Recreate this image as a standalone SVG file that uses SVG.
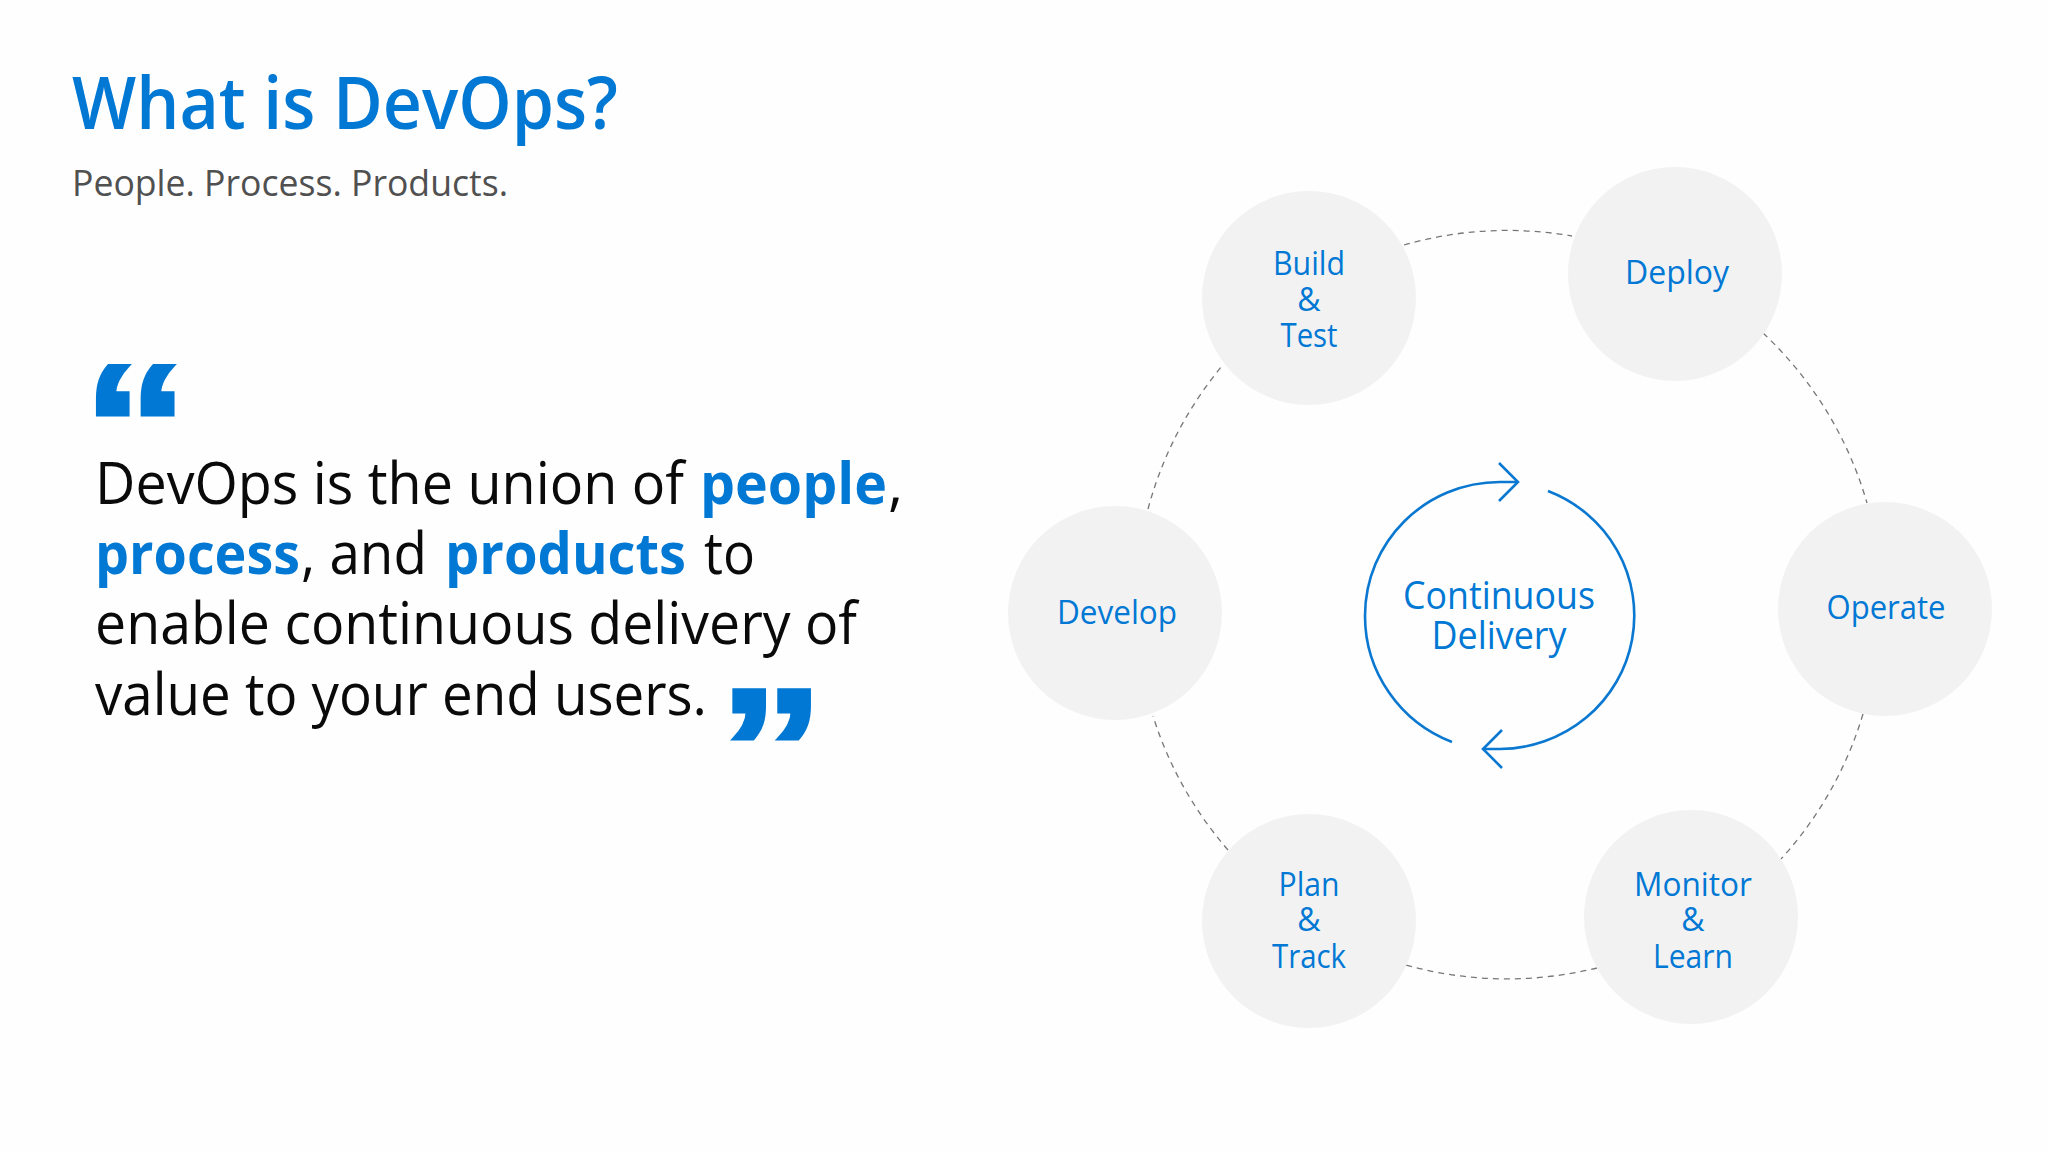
<svg xmlns="http://www.w3.org/2000/svg" width="2048" height="1152" viewBox="0 0 2048 1152">
<style>
text{font-family:"Open Sans","Noto Sans","Liberation Sans",sans-serif}
.t{fill:#0078d4;font-size:72px;font-weight:600}
.s{fill:#505050;font-size:37px}
.q{fill:#0a0a0a;font-size:58px}
.b{fill:#0078d4;font-size:58px;font-weight:700}
.m{fill:#0078d4;stroke:#0078d4;stroke-width:3;font-size:175px;font-weight:700;font-family:"Liberation Sans",Arial,sans-serif}
.n{fill:#f3f2f3}
.l{fill:#0078d4;font-size:32px;text-anchor:middle}
.c{fill:#0078d4;font-size:38px;text-anchor:middle}
.d{fill:none;stroke:#777;stroke-width:1.3;stroke-dasharray:6 5}
.a{fill:none;stroke:#0a78d0;stroke-width:2.6}
</style>
<defs>
<marker id="h" markerUnits="userSpaceOnUse" markerWidth="44" markerHeight="60" refX="30" refY="30" orient="auto"><path d="M11 11L30 30L11 49" fill="none" stroke="#0a78d0" stroke-width="2.6"/></marker>
</defs>
<rect width="2048" height="1152" fill="#fefefe"/>
<text class="t" x="72" y="129" textLength="546" lengthAdjust="spacingAndGlyphs">What is DevOps?</text>
<text class="s" x="72" y="196" textLength="436" lengthAdjust="spacingAndGlyphs">People. Process. Products.</text>
<g id="quote">
<text class="m" x="82" y="486" textLength="107" lengthAdjust="spacingAndGlyphs">“</text>
<text class="q" x="95" y="504" textLength="589" lengthAdjust="spacingAndGlyphs">DevOps is the union of</text>
<text class="b" x="700" y="504" textLength="187" lengthAdjust="spacingAndGlyphs">people</text>
<text class="q" x="888" y="504">,</text>
<text class="b" x="95" y="574" textLength="205" lengthAdjust="spacingAndGlyphs">process</text>
<text class="q" x="301" y="574" textLength="126" lengthAdjust="spacingAndGlyphs">, and</text>
<text class="b" x="445" y="574" textLength="241" lengthAdjust="spacingAndGlyphs">products</text>
<text class="q" x="704" y="574" textLength="51" lengthAdjust="spacingAndGlyphs">to</text>
<text class="q" x="95" y="644" textLength="762" lengthAdjust="spacingAndGlyphs">enable continuous delivery of</text>
<text class="q" x="95" y="715" textLength="612" lengthAdjust="spacingAndGlyphs">value to your end users.</text>
<text class="m" x="718" y="810" textLength="107" lengthAdjust="spacingAndGlyphs">”</text>
</g>
<g id="connectors">
<path class="d" d="M1404 245A375 375 0 0 1 1572 236"/>
<path class="d" d="M1763 333A375 375 0 0 1 1867 503"/>
<path class="d" d="M1863 714A375 375 0 0 1 1781 859"/>
<path class="d" d="M1597 968A375 375 0 0 1 1406 965"/>
<path class="d" d="M1228 850A375 375 0 0 1 1153 716"/>
<path class="d" d="M1148 509A375 375 0 0 1 1222 366"/>
</g>
<g id="build-test"><circle class="n" cx="1309" cy="298" r="107"/><text class="l" x="1309" y="275" textLength="72" lengthAdjust="spacingAndGlyphs">Build</text><text class="l" x="1309" y="311">&amp;</text><text class="l" x="1309" y="347" textLength="57" lengthAdjust="spacingAndGlyphs">Test</text></g>
<g id="deploy"><circle class="n" cx="1675" cy="274" r="107"/><text class="l" x="1677" y="284" textLength="104" lengthAdjust="spacingAndGlyphs">Deploy</text></g>
<g id="operate"><circle class="n" cx="1885" cy="609" r="107"/><text class="l" x="1886" y="619" textLength="119" lengthAdjust="spacingAndGlyphs">Operate</text></g>
<g id="monitor-learn"><circle class="n" cx="1691" cy="917" r="107"/><text class="l" x="1693" y="896" textLength="118" lengthAdjust="spacingAndGlyphs">Monitor</text><text class="l" x="1693" y="931">&amp;</text><text class="l" x="1693" y="968" textLength="80" lengthAdjust="spacingAndGlyphs">Learn</text></g>
<g id="plan-track"><circle class="n" cx="1309" cy="921" r="107"/><text class="l" x="1309" y="896" textLength="61" lengthAdjust="spacingAndGlyphs">Plan</text><text class="l" x="1309" y="931">&amp;</text><text class="l" x="1309" y="968" textLength="74" lengthAdjust="spacingAndGlyphs">Track</text></g>
<g id="develop"><circle class="n" cx="1115" cy="613" r="107"/><text class="l" x="1117" y="624" textLength="120" lengthAdjust="spacingAndGlyphs">Develop</text></g>
<g id="continuous-delivery">
<path class="a" marker-end="url(#h)" d="M1452 742C1400 722 1365 672 1365 616C1365 542 1425 482 1500 482L1518 482"/>
<path class="a" marker-end="url(#h)" d="M1548 491A135 133.5 0 0 1 1500 749L1483 749"/>
<text class="c" x="1499" y="609" textLength="192" lengthAdjust="spacingAndGlyphs">Continuous</text><text class="c" x="1499" y="649" textLength="135" lengthAdjust="spacingAndGlyphs">Delivery</text>
</g>
</svg>
